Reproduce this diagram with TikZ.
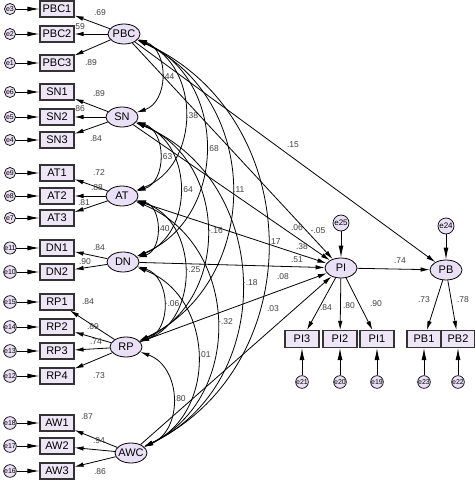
\documentclass[tikz,border=0pt]{standalone}
\usepackage{fontspec}
\setmainfont{Liberation Sans}
\usetikzlibrary{shapes.geometric,arrows.meta}
\definecolor{boxfill}{RGB}{238,230,246}
\definecolor{latfill}{RGB}{234,224,245}
\begin{document}
\begin{tikzpicture}[x=1pt,y=1pt,
    obs/.style={draw=black!80,line width=1.1pt,fill=boxfill,minimum width=34pt,
                minimum height=16pt,inner sep=1pt,font=\fontsize{11}{11}\selectfont},
    lat/.style={ellipse,draw,line width=0.8pt,fill=latfill,minimum width=32pt,
                minimum height=20pt,inner sep=0pt,font=\fontsize{11}{11}\selectfont},
    err/.style={circle,draw,line width=0.7pt,fill=latfill,minimum size=11pt,
                inner sep=0pt,font=\fontsize{7}{7}\selectfont},
    reg/.style={-{Latex[length=9pt,width=4.5pt]},line width=0.8pt},
    errarr/.style={-{Latex[length=12pt,width=5pt]},line width=0.9pt},
    cov/.style={{Latex[length=9pt,width=4.5pt]}-{Latex[length=9pt,width=4.5pt]},
                line width=0.8pt,looseness=1.17},
    coef/.style={font=\fontsize{8.5}{8.5}\selectfont,text=black!75,inner sep=1pt}]
  \useasboundingbox (0,0) rectangle (474,-482);
  % indicadores de la izquierda con sus errores
  \foreach \n/\y/\e in {PBC1/9/e3, PBC2/34/e2, PBC3/63/e1, SN1/92/e6, SN2/117/e5,
      SN3/140/e4, AT1/173/e9, AT2/196/e8, AT3/218/e7, DN1/248/e11, DN2/272/e10,
      RP1/302/e15, RP2/327/e14, RP3/351/e13, RP4/376/e12, AW1/423/e18,
      AW2/446/e17, AW3/471/e16}{
    \node[obs] (\n) at (57,-\y) {\n};
    \node[err] (\e) at (10,-\y) {\e};
    \draw[errarr] (\e) -- (\n);
  }
  % variables latentes
  \node[lat] (PBC) at (124,-34) {PBC};
  \node[lat] (SN) at (122,-117) {SN};
  \node[lat] (AT) at (122,-196) {AT};
  \node[lat] (DN) at (123,-262) {DN};
  \node[lat] (RP) at (126,-347) {RP};
  \node[lat,inner sep=-1.5pt] (AWC) at (131,-453) {AWC};
  \node[lat] (PI) at (341,-268) {PI};
  \node[lat] (PB) at (446,-270) {PB};
  \foreach \f/\n/\c/\lx/\ly in {PBC/PBC1/.69/100/13, PBC/PBC2/.59/79/27,
      PBC/PBC3/.89/91/63, SN/SN1/.89/99/94, SN/SN2/.86/79/109, SN/SN3/.84/96/139,
      AT/AT1/.72/99/173, AT/AT2/.88/97/188, AT/AT3/.81/84/203, DN/DN1/.84/99/248,
      DN/DN2/.90/85/262, RP/RP1/.84/88/302, RP/RP2/.89/93/327, RP/RP3/.74/96/342,
      RP/RP4/.73/99/376, AWC/AW1/.87/87/417, AWC/AW2/.94/99/441,
      AWC/AW3/.86/100/472}{
    \draw[reg] (\f) -- (\n);
    \node[coef] (l-\n) at (\lx,-\ly) {\c};
  }
  % covarianzas
  \foreach \a/\b/\ang/\c in {PBC/SN/71/.44, PBC/AT/68/.38, PBC/DN/67/.68,
      PBC/RP/65/.11, PBC/AWC/65/.17, SN/AT/72/.63, SN/DN/69/.64, SN/RP/67/-.16,
      SN/AWC/66/-.18, AT/DN/74/.40, AT/RP/71/-.25, AT/AWC/66/-.32, DN/RP/71/-.06,
      DN/AWC/67/.01, RP/AWC/68/.80}{
    \draw[cov] (\a) to[bend left=\ang] node[coef,midway,anchor=west] (k-\a-\b) {\c} (\b);
  }
  % caminos estructurales
  \foreach \f/\c/\lx/\ly in {PBC/-.05/318/231, SN/.06/297/228, AT/.38/302/247,
      DN/.51/297/260, RP/.08/283/277, AWC/.03/273/309}{
    \draw[reg] (\f) -- (PI);
    \node[coef] (r-\f) at (\lx,-\ly) {\c};
  }
  \draw[reg] (PBC) -- (PB);
  \node[coef] (r-PBC-PB) at (293,-145) {.15};
  \draw[reg] (PI) -- (PB);
  \node[coef] (r-PI-PB) at (400,-261) {.74};
  \node[err,minimum size=16pt,font=\fontsize{8}{8}\selectfont] (e25) at (341,-223) {e25};
  \node[err,minimum size=16pt,font=\fontsize{8}{8}\selectfont] (e24) at (446,-226) {e24};
  \draw[errarr] (e25) -- (PI);
  \draw[errarr] (e24) -- (PB);
  % indicadores de PI y PB
  \foreach \f/\n/\x/\e/\c/\lx/\ly in {PI/PI3/302/e21/.84/326/308,
      PI/PI2/340/e20/.80/349/306, PI/PI1/377/e19/.90/376/304,
      PB/PB1/424/e23/.73/424/300, PB/PB2/458/e22/.78/463/300}{
    \node[obs,minimum height=17pt] (\n) at (\x,-339) {\n};
    \node[err,minimum size=12pt,font=\fontsize{7}{7}\selectfont] (\e) at (\x,-382) {\e};
    \draw[reg] (\f) -- (\n);
    \draw[errarr] (\e) -- (\n);
    \node[coef] (l-\n) at (\lx,-\ly) {\c};
  }
\end{tikzpicture}
\end{document}
